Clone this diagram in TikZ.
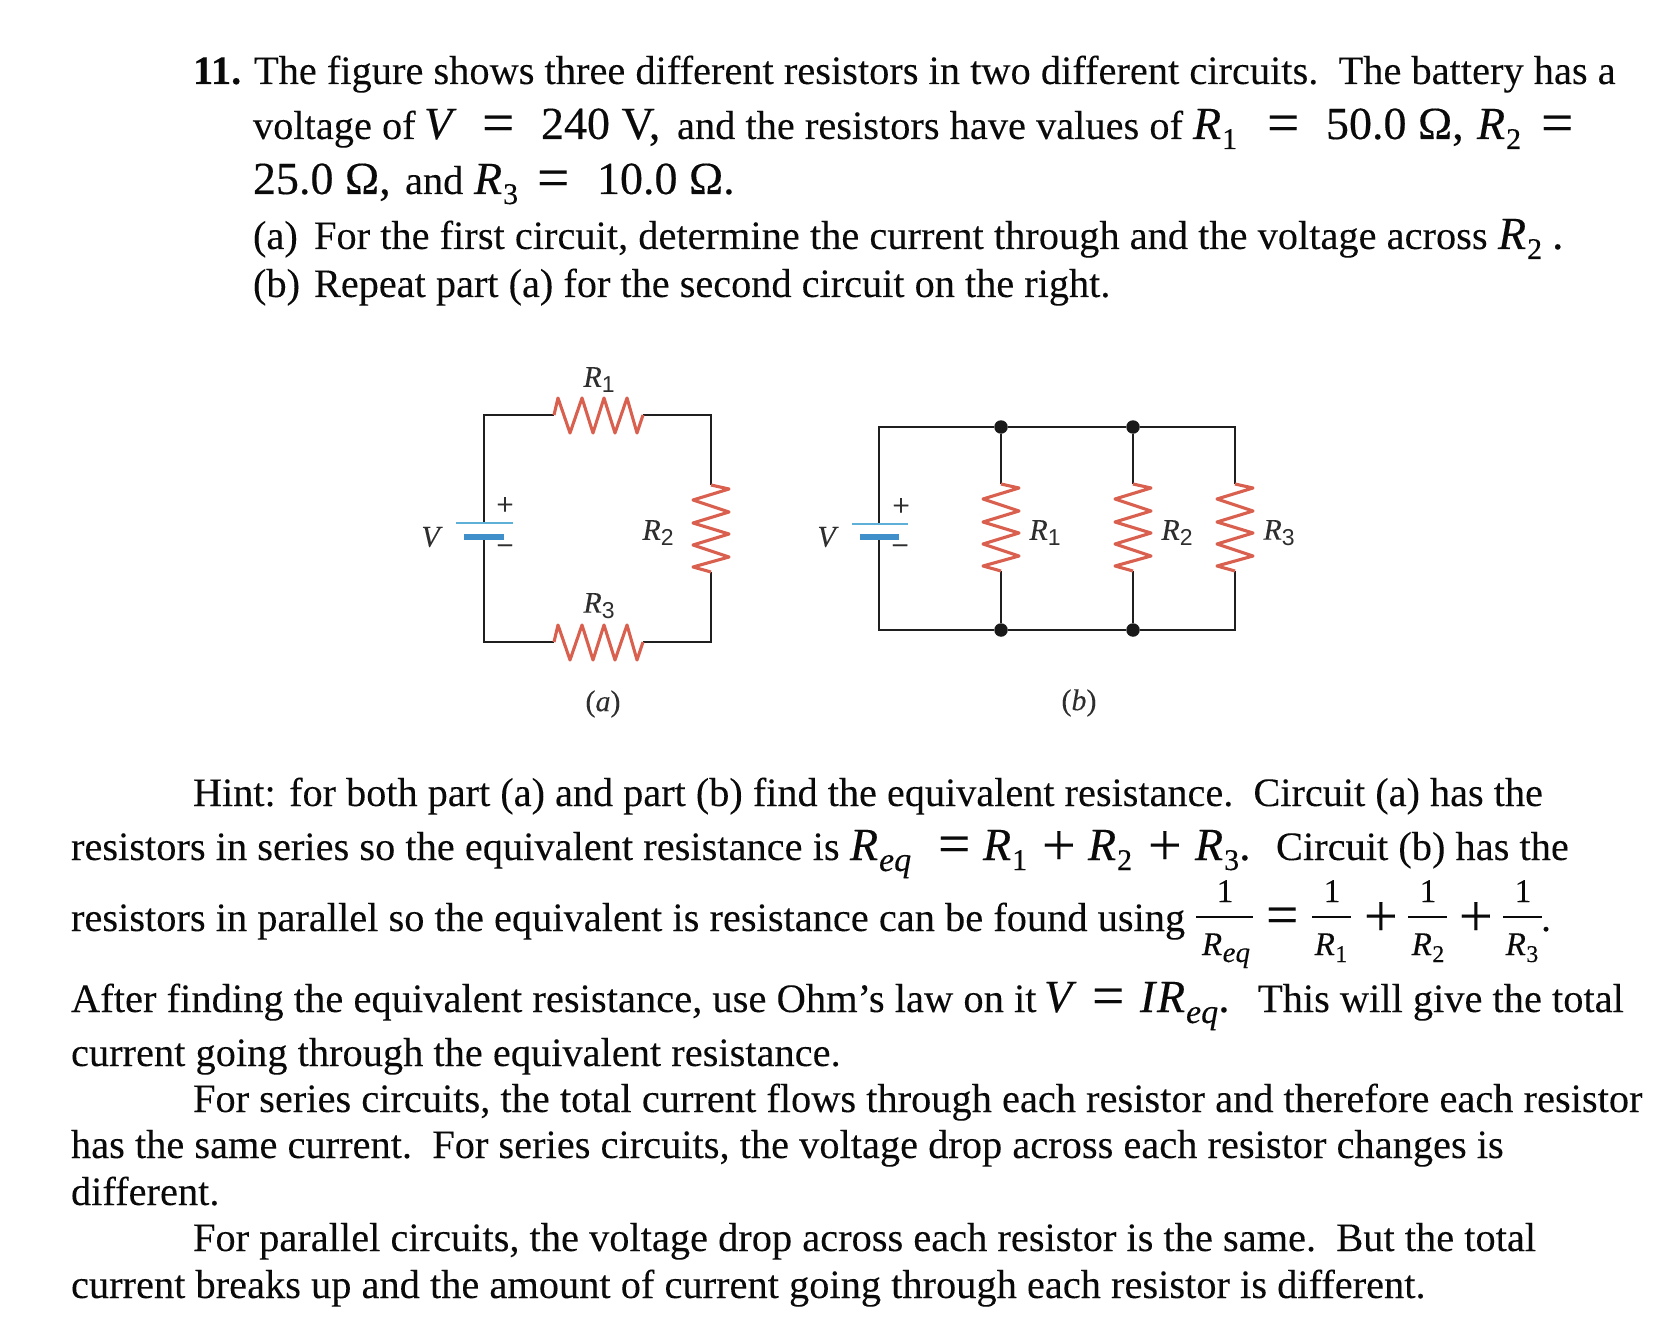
\documentclass[tikz,border=0pt]{standalone}
\usepackage{fontspec}
\setmainfont[FakeBold=0.08]{Liberation Serif}
\newfontfamily\mf[FakeBold=0.3]{Liberation Serif}
\newfontfamily\ff[FakeBold=0.2]{Liberation Serif}
\newfontfamily\lbl{Liberation Sans}
\newcommand{\bodyf}{\fontsize{40.4}{46}\selectfont}
\newcommand{\mathf}{\mf\fontsize{46}{50}\selectfont}
\newcommand{\RR}[1]{\textit{R}\kern1pt\raisebox{-10pt}{\fontsize{30}{32}\selectfont #1}}
\newcommand{\Req}{\textit{R}\kern1pt\raisebox{-11pt}{\fontsize{34}{34}\selectfont\textit{eq}}}
\newcommand{\sR}[1]{\textit{R}\kern0.5pt\raisebox{-7pt}{\fontsize{24}{24}\selectfont #1}}
\newcommand{\sReq}{\textit{R}\kern0.5pt\raisebox{-7pt}{\fontsize{29}{29}\selectfont\textit{eq}}}
\newcommand{\cR}[1]{\textit{R}\raisebox{-6pt}{\lbl\fontsize{23}{24}\selectfont #1}}
\newcommand{\eqS}{\raisebox{-3pt}{\scalebox{1.25}{=}}}
\newcommand{\plS}{\raisebox{-5pt}{\scalebox{1.3}{+}}}
\definecolor{rescol}{HTML}{D9604F}
\definecolor{platelight}{HTML}{5FB0D8}
\definecolor{platedark}{HTML}{3F8FCB}
\definecolor{lab}{HTML}{2E2E2E}
\definecolor{ink}{HTML}{0A0A0A}
\tikzset{
  x=1pt,y=-1pt,
  txt/.style={anchor=base west,inner sep=0pt,outer sep=0pt,text=ink,font=\bodyf},
  mth/.style={anchor=base west,inner sep=0pt,outer sep=0pt,text=ink,font=\mathf},
  frc/.style={anchor=base,inner sep=0pt,outer sep=0pt,text=ink,font=\ff\fontsize{33}{34}\selectfont},
  wire/.style={draw=black!88,line width=2.9pt,line join=miter},
  res/.style={draw=rescol,line width=3.1pt,line join=round},
  plateA/.style={draw=platelight,line width=2.4pt},
  plateB/.style={draw=platedark,line width=5.5pt},
  clab/.style={inner sep=0pt,outer sep=0pt,text=lab,font=\fontsize{30}{32}\selectfont},
  sgn/.style={inner sep=0pt,outer sep=0pt,text=lab,font=\fontsize{31}{32}\selectfont},
  dotj/.style={circle,fill=black!90,minimum size=13.5pt,inner sep=0pt,outer sep=0pt},
  bar/.style={draw=ink,line width=2.2pt},
  pics/hres/.style={code={\draw[res] (0,0)--(4,-17)--(16,18)--(28,-17)--(39,18)--(50,-17)--(61,18)--(73,-17)--(83,18)--(89,0);}},
  pics/vres/.style={code={\draw[res] (0,0)--(18,4)--(-18,15)--(18,27)--(-18,38)--(18,49)--(-18,60)--(18,72)--(-18,82)--(0,87);}}
}
\begin{document}
\begin{tikzpicture}
\useasboundingbox (0,0) rectangle (1654,1340);
% problem text
\node[txt] (n11) at (193,84) {\textbf{11.}};
\node[txt] (l1) at (254,84) {The figure shows three different resistors in two different circuits.\ \ The battery has a};
\node[txt] (l2a) at (253,139) {voltage of};
\node[mth] (l2b) at (424,139) {\textit{V}};
\node[mth] (l2c) at (482,139) {\eqS};
\node[mth] (l2d) at (541,139) {240 V,};
\node[txt] (l2e) at (677,139) {and the resistors have values of};
\node[mth] (l2f) at (1193,139) {\RR{1}};
\node[mth] (l2g) at (1267,139) {\eqS};
\node[mth] (l2h) at (1326,139) {50.0 Ω,};
\node[mth] (l2i) at (1477,139) {\RR{2}};
\node[mth] (l2j) at (1541,139) {\eqS};
\node[mth] (l3a) at (253,194) {25.0 Ω,};
\node[txt] (l3b) at (405,194) {and};
\node[mth] (l3c) at (474,194) {\RR{3}};
\node[mth] (l3d) at (537,194) {\eqS};
\node[mth] (l3e) at (597,194) {10.0 Ω.};
\node[txt] (l4a) at (253,249) {(a)};
\node[txt] (l4b) at (314,249) {For the first circuit, determine the current through and the voltage across};
\node[mth] (l4c) at (1498,249) {\RR{2}};
\node[mth] (l4d) at (1552,249) {.};
\node[txt] (l5a) at (253,297) {(b)};
\node[txt] (l5b) at (314,297) {\scalebox{0.997}[1]{Repeat part (a) for the second circuit on the right.}};
% circuit a
\coordinate (aTL) at (484,415);
\coordinate (aTR) at (711,415);
\coordinate (aBR) at (711,642);
\coordinate (aBL) at (484,642);
\coordinate (aP) at (484,523);
\coordinate (aN) at (484,537);
\coordinate (aR1w) at (554,415);
\coordinate (aR1e) at (643,415);
\coordinate (aR3w) at (554,642);
\coordinate (aR3e) at (643,642);
\coordinate (aR2n) at (711,485);
\coordinate (aR2s) at (711,572);
\draw[wire] (aP) -- (aTL) -- (aR1w);
\draw[wire] (aR1e) -- (aTR) -- (aR2n);
\draw[wire] (aR2s) -- (aBR) -- (aR3e);
\draw[wire] (aR3w) -- (aBL) -- (aN);
\pic at (aR1w) {hres};
\pic at (aR3w) {hres};
\pic at (aR2n) {vres};
\draw[plateA] (456,523) -- (513,523);
\draw[plateB] (464,537) -- (504,537);
\node[sgn] (aPlus) at (505,506) {+};
\node[sgn] (aMinus) at (505,550) {\textminus};
\node[clab] (aV) at (432,537) {\textit{V}};
\node[clab] (aL1) at (599,380) {\cR{1}};
\node[clab] (aL2) at (658,533) {\cR{2}};
\node[clab] (aL3) at (599,606) {\cR{3}};
\node[clab] (aCap) at (603,704) {(\textit{a})};
% circuit b
\coordinate (bTL) at (879,427);
\coordinate (bTR) at (1235,427);
\coordinate (bBR) at (1235,630);
\coordinate (bBL) at (879,630);
\coordinate (bP) at (879,524);
\coordinate (bN) at (879,537);
\node[dotj] (bJ1) at (1001,427) {};
\node[dotj] (bJ2) at (1133,427) {};
\node[dotj] (bJ3) at (1001,630) {};
\node[dotj] (bJ4) at (1133,630) {};
\coordinate (bR1n) at (1001,484);
\coordinate (bR1s) at (1001,571);
\coordinate (bR2n) at (1133,484);
\coordinate (bR2s) at (1133,571);
\coordinate (bR3n) at (1235,484);
\coordinate (bR3s) at (1235,571);
\draw[wire] (bP) -- (bTL) -- (bJ1) -- (bJ2) -- (bTR) -- (bR3n);
\draw[wire] (bN) -- (bBL) -- (bJ3) -- (bJ4) -- (bBR) -- (bR3s);
\draw[wire] (bJ1) -- (bR1n);
\draw[wire] (bR1s) -- (bJ3);
\draw[wire] (bJ2) -- (bR2n);
\draw[wire] (bR2s) -- (bJ4);
\pic at (bR1n) {vres};
\pic at (bR2n) {vres};
\pic at (bR3n) {vres};
\draw[plateA] (852,524) -- (908,524);
\draw[plateB] (860,537) -- (899,537);
\node[sgn] (bPlus) at (901,507) {+};
\node[sgn] (bMinus) at (900,550) {\textminus};
\node[clab] (bV) at (828,537) {\textit{V}};
\node[clab] (bL1) at (1045,533) {\cR{1}};
\node[clab] (bL2) at (1177,533) {\cR{2}};
\node[clab] (bL3) at (1279,533) {\cR{3}};
\node[clab] (bCap) at (1079,703) {(\textit{b})};
% hint text
\node[txt] (h1a) at (193,806) {\scalebox{0.996}[1]{Hint: for both part (a) and part (b) find the equivalent resistance.\ \ Circuit (a) has the}};
\node[txt] (h2a) at (71,860) {resistors in series so the equivalent resistance is};
\node[mth] (h2b) at (850,860) {\Req};
\node[mth] (h2c) at (938,860) {\eqS};
\node[mth] (h2d) at (983,860) {\RR{1}};
\node[mth] (h2e) at (1042,860) {\plS};
\node[mth] (h2f) at (1088,860) {\RR{2}};
\node[mth] (h2g) at (1148,860) {\plS};
\node[mth] (h2h) at (1195,860) {\RR{3}.};
\node[txt] (h2i) at (1276,860) {Circuit (b) has the};
\node[txt] (h3a) at (71,931) {resistors in parallel so the equivalent is resistance can be found using};
\draw[bar] (1196,917) -- (1253,917);
\node[frc] (f1n) at (1225,902) {1};
\node[frc] (f1d) at (1226,955) {\sReq};
\node[mth] (h3b) at (1266,931) {\eqS};
\draw[bar] (1312,917) -- (1351,917);
\node[frc] (f2n) at (1332,902) {1};
\node[frc] (f2d) at (1331,955) {\sR{1}};
\node[mth] (h3c) at (1364,931) {\plS};
\draw[bar] (1408,917) -- (1447,917);
\node[frc] (f3n) at (1428,902) {1};
\node[frc] (f3d) at (1428,955) {\sR{2}};
\node[mth] (h3d) at (1459,931) {\plS};
\draw[bar] (1503,917) -- (1542,917);
\node[frc] (f4n) at (1523,902) {1};
\node[frc] (f4d) at (1522,955) {\sR{3}};
\node[txt] (h3e) at (1541,931) {.};
\node[txt] (h4a) at (71,1012) {\scalebox{1.003}[1]{After finding the equivalent resistance, use Ohm’s law on it}};
\node[mth] (h4b) at (1044,1012) {\textit{V}};
\node[mth] (h4c) at (1092,1012) {\eqS};
\node[mth] (h4d) at (1140,1012) {\textit{I}};
\node[mth] (h4e) at (1157,1012) {\Req.};
\node[txt] (h4f) at (1258,1012) {This will give the total};
\node[txt] (h5) at (71,1066) {current going through the equivalent resistance.};
\node[txt] (h6) at (193,1112) {For series circuits, the total current flows through each resistor and therefore each resistor};
\node[txt] (h7) at (71,1158) {has the same current.\ \ For series circuits, the voltage drop across each resistor changes is};
\node[txt] (h8) at (71,1205) {different.};
\node[txt] (h9) at (193,1251) {For parallel circuits, the voltage drop across each resistor is the same.\ \ But the total};
\node[txt] (h10) at (71,1298) {current breaks up and the amount of current going through each resistor is different.};
\end{tikzpicture}
\end{document}
